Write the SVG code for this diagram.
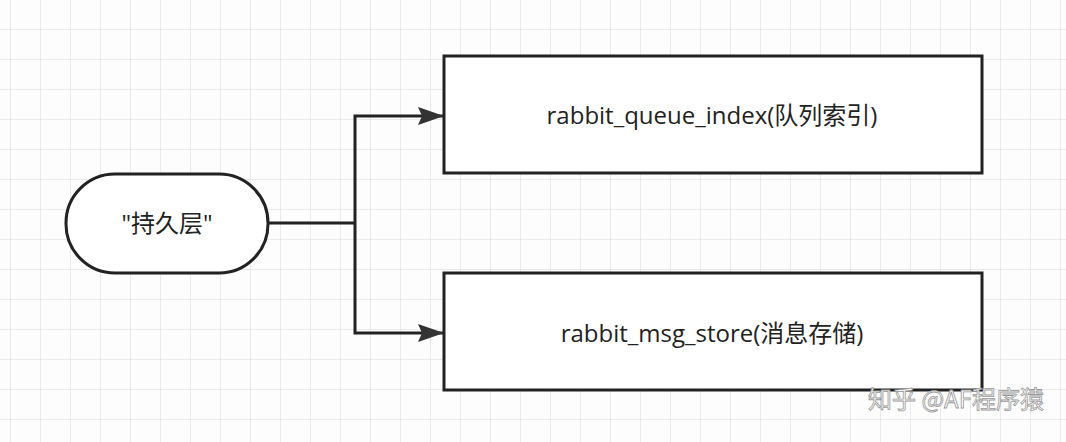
<svg xmlns="http://www.w3.org/2000/svg" width="1066" height="442" viewBox="0 0 1066 442">
<defs>
<pattern id="g" x="10" y="29" width="30" height="30" patternUnits="userSpaceOnUse"><path d="M0 0H30M0 0V30" fill="none" stroke="#d8d8dc" stroke-width="1"/></pattern>
<marker id="a" markerWidth="26" markerHeight="18" refX="25" refY="9" orient="auto" markerUnits="userSpaceOnUse" viewBox="0 0 26 18"><path d="M0 0L26 9L0 18L4 9Z" fill="#333"/></marker>
</defs>
<style>.s{fill:#fff;stroke:#222;stroke-width:3}.t{font-family:"Open Sans","Noto Sans CJK SC",sans-serif;font-size:24px;fill:#222;text-anchor:middle}.c{fill:none;stroke:#222;stroke-width:3}</style>
<rect width="1066" height="442" fill="#fdfdfd"/>
<rect width="1066" height="442" fill="url(#g)"/>
<g id="n1"><rect class="s" x="66" y="174" width="202" height="99" rx="49"/><text class="t" x="167" y="232">"持久层"</text></g>
<g id="n2"><rect class="s" x="444" y="56" width="538" height="117"/><text class="t" x="712" y="124">rabbit_queue_index(队列索引)</text></g>
<g id="n3"><rect class="s" x="444" y="273" width="538" height="117"/><text class="t" x="712" y="342">rabbit_msg_store(消息存储)</text></g>
<g id="edges"><path class="c" d="M268 223H355"/><path class="c" d="M355 223V116H443" marker-end="url(#a)"/><path class="c" d="M355 223V333H443" marker-end="url(#a)"/></g>
<text x="956" y="408" style="font-family:'Noto Sans CJK SC',sans-serif;font-size:24px;fill:#fff;stroke:#999;stroke-width:0.8;text-anchor:middle">知乎 @AF程序猿</text>
</svg>
